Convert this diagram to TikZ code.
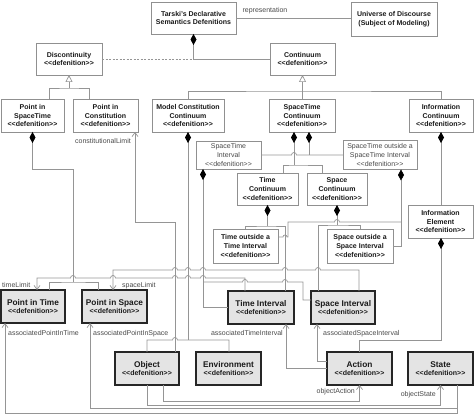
\documentclass[tikz,border=0pt]{standalone}
\usepackage{fontspec}
\setmainfont{Liberation Sans}
\usetikzlibrary{arrows.meta,calc}
\definecolor{ln}{HTML}{959595}
\definecolor{bx}{HTML}{909090}
\definecolor{gfill}{HTML}{E4E4E4}
\definecolor{txt}{HTML}{1A1A1A}
\definecolor{ltxt}{HTML}{4A4A4A}
\newcommand\stereo{<\kern0pt<defenition>\kern0pt>}
\newcommand\gtitle[1]{{\fontsize{8.3}{10}\selectfont #1}}
\begin{document}
\begin{tikzpicture}[x=1pt,y=-1pt,
  box/.style={draw=bx, line width=0.8pt, fill=white, inner sep=0pt, outer sep=0pt, align=center,
    font=\fontsize{7}{8.6}\selectfont\bfseries, text=txt},
  lbox/.style={box, font=\fontsize{7}{8.6}\selectfont, text=ltxt},
  gbox/.style={box, draw=black!85, line width=1.6pt, fill=gfill},
  line/.style={draw=ln, line width=0.7pt},
  comp/.style={line, {Diamond[length=11pt,width=6pt,color=black]}-},
  gen/.style={line, -{Triangle[length=7pt,width=7pt,fill=white]}},
  assoc/.style={line, -{Straight Barb[length=4pt,width=6pt]}},
  lab/.style={font=\fontsize{7}{8}\selectfont, text=ltxt, inner sep=0pt}]
\useasboundingbox (0,0) rectangle (474,414);
% nodes
\node[box, minimum width=85pt, minimum height=32pt] (tarski) at (193.5,18) {Tarski's Declarative\\Semantics Defenitions};
\node[box, minimum width=86pt, minimum height=34pt] (universe) at (394,19) {Universe of Discourse\\(Subject of Modeling)};
\node[box, minimum width=66pt, minimum height=32pt] (discont) at (69,59) {Discontinuity\\\stereo};
\node[box, minimum width=65pt, minimum height=32pt] (contin) at (302.5,59) {Continuum\\\stereo};
\node[box, minimum width=63pt, minimum height=33pt] (pst) at (32.5,115.5) {Point in\\SpaceTime\\\stereo};
\node[box, minimum width=65pt, minimum height=33pt] (pic) at (105.5,115.5) {Point in\\Constitution\\\stereo};
\node[box, minimum width=72pt, minimum height=33pt] (mcc) at (188,115.5) {Model Constitution\\Continuum\\\stereo};
\node[box, minimum width=66pt, minimum height=33pt] (stc) at (302,115.5) {SpaceTime\\Continuum\\\stereo};
\node[box, minimum width=64pt, minimum height=33pt] (infc) at (441,115.5) {Information\\Continuum\\\stereo};
\node[lbox, minimum width=65pt, minimum height=28pt] (sti) at (228.5,155) {SpaceTime\\Interval\\\stereo};
\node[lbox, minimum width=74pt, minimum height=29pt] (sto) at (380,155) {SpaceTime outside a\\SpaceTime Interval\\\stereo};
\node[box, minimum width=61pt, minimum height=32pt] (tc) at (267.5,189) {Time\\Continuum\\\stereo};
\node[box, minimum width=60pt, minimum height=32pt] (sc) at (337,189) {Space\\Continuum\\\stereo};
\node[box, minimum width=65pt, minimum height=34pt] (tout) at (245.5,246) {Time outside a\\Time Interval\\\stereo};
\node[box, minimum width=66pt, minimum height=34pt] (sout) at (360,246) {Space outside a\\Space Interval\\\stereo};
\node[box, minimum width=65pt, minimum height=33pt] (ie) at (440.5,221.5) {Information\\Element\\\stereo};
\node[gbox, minimum width=64pt, minimum height=33pt] (pt) at (33,306.5) {\gtitle{Point in Time}\\\stereo};
\node[gbox, minimum width=65pt, minimum height=33pt] (ps) at (114.5,306.5) {\gtitle{Point in Space}\\\stereo};
\node[gbox, minimum width=66pt, minimum height=33pt] (ti) at (261,307.5) {\gtitle{Time Interval}\\\stereo};
\node[gbox, minimum width=64pt, minimum height=33pt] (si) at (343,307.5) {\gtitle{Space Interval}\\\stereo};
\node[gbox, minimum width=64pt, minimum height=33pt] (obj) at (147,368.5) {\gtitle{Object}\\\stereo};
\node[gbox, minimum width=65pt, minimum height=33pt] (env) at (228.5,368.5) {\gtitle{Environment}\\\stereo};
\node[gbox, minimum width=65pt, minimum height=33pt] (act) at (359.5,368.5) {\gtitle{Action}\\\stereo};
\node[gbox, minimum width=65pt, minimum height=33pt] (state) at (440.5,368.5) {\gtitle{State}\\\stereo};
% representation
\draw[line] (tarski.east) -- (tarski.east -| universe.west);
\node[lab, anchor=base] (replab) at (265,12.5) {representation};
% Tarski composition and dashed link
\coordinate (j1) at (193.5,59);
\draw[comp] (tarski.south) -- (j1) -- (contin.west);
\draw[line, dash pattern=on 2pt off 1.5pt] (discont.east) -- (j1);
% generalizations
\coordinate (g1) at (69,88);
\draw[line] ([xshift=16.5pt]pst.north) |- (g1) -| ([xshift=-16.5pt]pic.north);
\draw[gen] (g1) -- (discont.south);
\coordinate (g2) at (302.5,91);
\draw[line] (mcc.north) |- (g2) -| (infc.north);
\draw[line] ([xshift=0.5pt]stc.north) -- (g2);
\draw[gen] (g2) -- (contin.south);
% Point in SpaceTime composition
\coordinate (j2) at (73,282);
\draw[comp] (pst.south) |- (73,169) -- (j2);
\draw[line] ([xshift=16pt]pt.north) |- (j2) -| ([xshift=-16.5pt]ps.north);
% constitutionalLimit
\draw[assoc] ([xshift=28pt]obj.north) |- (135,222) -- ([xshift=29.5pt]pic.south);
\node[lab, anchor=base east] (cllab) at (131,143.5) {constitutionalLimit};
% Model Constitution composition
\coordinate (j3) at (188,340);
\draw[comp] (mcc.south) -- (j3);
\draw[line] (obj.north) |- (172.5,340) arc[start angle=180,end angle=0,radius=2.5pt] -- (j3) -| ([xshift=0.5pt]env.north);
% SpaceTime Continuum compositions
\coordinate (j4) at (294,165);
\draw[comp] ([xshift=-8pt]stc.south) -- (j4);
\draw[line] ([xshift=15.5pt]tc.north) |- (j4) -| ([xshift=-15pt]sc.north);
\coordinate (j5) at (309,155);
\draw[comp] ([xshift=7pt]stc.south) -- (j5);
\draw[line] (sti.east) -- (291.5,155) arc[start angle=180,end angle=0,radius=2.5pt] -- (sto.west);
% SpaceTime Interval composition
\coordinate (j6) at (203,282);
\draw[comp] ([xshift=-25.5pt]sti.south) |- (ti.west);
\draw[line] (j6) -- (242.5,282) arc[start angle=180,end angle=0,radius=2.5pt] -- (282.5,282) arc[start angle=180,end angle=0,radius=2.5pt] -- (303,282) |- ([yshift=7.5pt]si.west);
% Time Continuum composition
\coordinate (j7) at (267.5,226);
\draw[comp] (tc.south) -- (j7);
\draw[line] (tout.north) |- (j7) -| ([xshift=24pt]ti.north);
% Space Continuum composition
\coordinate (j8) at (337,225);
\draw[comp] (sc.south) -- (j8);
\draw[line] ([xshift=-25pt]si.north) |- (j8) -| (sout.north);
% SpaceTime outside composition
\coordinate (j9) at (401,222);
\draw[comp] ([xshift=21pt]sto.south) |- (sout.east);
\draw[line] (j9) -- (339.5,222) arc[start angle=0,end angle=180,radius=2.5pt] -- (288,222) -- (288,237) -- (287,237) arc[start angle=0,end angle=180,radius=2pt] -- ([yshift=9pt]tout.east);
% Information compositions
\draw[comp] (infc.south) -- (infc.south |- ie.north);
\draw[comp] ([xshift=0.5pt]ie.south) |- (359.5,340) -- (act.north);
% timeLimit
\draw[assoc] ([xshift=-16pt]ti.north) |- (205.5,278) arc[start angle=0,end angle=180,radius=2.5pt] -- (190.5,278) arc[start angle=0,end angle=180,radius=2.5pt] -- (177.5,278) arc[start angle=0,end angle=180,radius=2.5pt] -- (115.5,278) arc[start angle=0,end angle=180,radius=2.5pt] -- (75.5,278) arc[start angle=0,end angle=180,radius=2.5pt] -- (37,278) -- ([xshift=4pt]pt.north);
\node[lab, anchor=base west] (tllab) at (2,287.5) {timeLimit};
% spaceLimit
\draw[assoc] ([xshift=16pt]si.north) |- (320.5,270) arc[start angle=0,end angle=180,radius=2.5pt] -- (287.5,270) arc[start angle=0,end angle=180,radius=2.5pt] -- (205.5,270) arc[start angle=0,end angle=180,radius=2.5pt] -- (190.5,270) arc[start angle=0,end angle=180,radius=2.5pt] -- (177.5,270) arc[start angle=0,end angle=180,radius=2.5pt] -- (113,270) -- ([xshift=-1.5pt]ps.north);
\node[lab, anchor=base west] (sllab) at (122,287.5) {spaceLimit};
% Action associations
\draw[assoc] (act.west) -| ([xshift=25pt]ti.south);
\node[lab, anchor=base east] (atilab) at (283,335) {associatedTimeInterval};
\draw[assoc] ([yshift=7.5pt]act.west) -| ([xshift=-26pt]si.south);
\node[lab, anchor=base west] (asilab) at (323,335) {associatedSpaceInterval};
% object links
\draw[assoc] ([xshift=16pt]obj.south) |- (359.5,401) -- (act.south);
\node[lab, anchor=base east] (oalab) at (355,393.5) {objectAction};
\draw[assoc] (obj.south) |- (440.5,405) -- (state.south);
\node[lab, anchor=base east] (oslab) at (436,396.5) {objectState};
% point associations
\draw[assoc] ([xshift=16.5pt]state.south) |- (90,408) -- ([xshift=-24.5pt]ps.south);
\node[lab, anchor=base west] (apslab) at (93,335) {associatedPointInSpace};
\draw[assoc] ([xshift=16.5pt]state.south) |- (5,413) -- ([xshift=-28pt]pt.south);
\node[lab, anchor=base west] (aptlab) at (8,335) {associatedPointInTime};
\end{tikzpicture}
\end{document}
